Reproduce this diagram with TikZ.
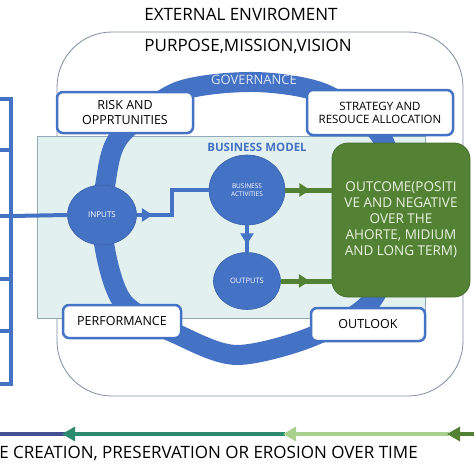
\documentclass[tikz,border=0pt]{standalone}
\usepackage{fontspec}
\setmainfont{Open Sans}
\usetikzlibrary{shapes.geometric,arrows.meta,decorations.markings,calc}
\definecolor{ringblue}{HTML}{4472C4}
\definecolor{bmfill}{HTML}{E2F0EF}
\definecolor{bmline}{HTML}{8FA9B8}
\definecolor{outgreen}{HTML}{548235}
\definecolor{outtext}{HTML}{EAF3E0}
\definecolor{framecol}{HTML}{7C8CA3}
\definecolor{govtext}{HTML}{DCE6F5}
\definecolor{tlindigo}{HTML}{434E93}
\definecolor{tlteal}{HTML}{2E8A6C}
\definecolor{tllight}{HTML}{A9D18E}
\definecolor{tldark}{HTML}{548235}
\begin{document}
\begin{tikzpicture}[x=1pt,y=-1pt,
  capbox/.style={draw=ringblue,line width=2.5pt,fill=white,rounded corners=6pt,align=center,inner sep=0pt,font=\fontsize{12.5}{14.5}\selectfont},
  blob/.style={ellipse,fill=ringblue,draw=ringblue!85!black,line width=0.6pt,inner sep=0pt,text=white,align=center},
  flow/.style={ringblue,line width=4pt},
  gflow/.style={outgreen,line width=5pt},
  capedge/.style={ringblue,line width=4pt},
  midtip/.style={postaction={decorate},decoration={markings,mark=at position #1 with {\arrow{Triangle[length=11pt,width=13pt]}}}},
  title/.style={font=\fontsize{17}{20}\selectfont,inner sep=0pt},
  tl/.style={line width=4pt},
  tltip/.style={-{Triangle[length=13pt,width=14pt]}}
]
\useasboundingbox (0,0) rectangle (474,474);
\clip (0,0) rectangle (474,474);

% titles
\node[title] (ext) at (241,14) {EXTERNAL ENVIROMENT};
\node[title] (pmv) at (248,46) {PURPOSE,MISSION,VISION};

% outer frame
\draw[framecol,line width=0.8pt,rounded corners=55pt] (57,32) rectangle (463,396);

% business model area
\draw[bmline,fill=bmfill,line width=0.6pt] (37,136) rectangle (425,318);
\node[font=\bfseries\fontsize{11.5}{13}\selectfont,text=ringblue,inner sep=0pt] (bm) at (257,147) {BUSINESS MODEL};

% governance ring
\draw[ringblue,line width=20pt] plot[smooth cycle] coordinates {(254,82) (325,94) (382,138) (398,220) (372,300) (311,337) (237,355) (181,336) (123,302) (103,237) (106,180) (120,136) (177,92)};
\node[font=\fontsize{13}{15}\selectfont,text=govtext,inner sep=0pt] (gov) at (254,80) {GOVERNANCE};

% left capitals (cut off)
\foreach \ya/\yb in {99/150,150/216,216/279,279/331,331/384}{
  \draw[capedge] (-30,\ya) rectangle (11,\yb);
}
\coordinate (capout) at (11,216);

% boxes
\node[capbox,minimum width=136pt,minimum height=41pt] (risk) at (125,112.5) {RISK AND\\OPPRTUNITIES};
\node[capbox,minimum width=146pt,minimum height=45pt,font=\fontsize{11.5}{13}\selectfont] (strat) at (380,112.5) {STRATEGY AND\\RESOUCE ALLOCATION};
\node[capbox,minimum width=118pt,minimum height=33pt] (perf) at (122,321.5) {PERFORMANCE};
\node[capbox,minimum width=114pt,minimum height=33pt] (outl) at (368,324.5) {OUTLOOK};

\node[fill=outgreen,draw=outgreen!85!black,line width=0.8pt,rounded corners=16pt,minimum width=138pt,minimum height=154pt,inner sep=0pt,text=outtext,align=center,font=\fontsize{13.5}{16}\selectfont] (outcome) at (401,220) {OUTCOME(POSITI\\VE AND NEGATIVE\\OVER THE\\AHORTE, MIDIUM\\AND LONG TERM)};

% circles
\node[blob,minimum width=69pt,minimum height=60pt,font=\fontsize{8}{9}\selectfont] (inputs) at (102,215) {INPUTS};
\node[blob,minimum width=76pt,minimum height=70pt,font=\fontsize{6.5}{8}\selectfont] (bact) at (247,190) {BUSINESS\\ACTIVITIES};
\node[blob,minimum width=67pt,minimum height=57pt,font=\fontsize{7.5}{9}\selectfont] (outputs) at (247,281) {OUTPUTS};

% connectors
\draw[flow] (capout) -- (inputs.west);
\draw[flow,midtip=16pt] (inputs.east) -| ([xshift=-37pt]bact.west) -- (bact.west);
\draw[flow,midtip=19pt] (bact.south) -- (outputs.north);
\draw[gflow,midtip=25pt] (bact.east) -- (bact.east -| outcome.west);
\draw[gflow,midtip=29pt] (outputs.east) -- (outputs.east -| outcome.west);

% timeline
\coordinate (t0) at (-5,434);
\coordinate (t1) at (62,434);
\coordinate (t2) at (283,434);
\coordinate (t3) at (447,434);
\coordinate (t4) at (480,434);
\draw[tl,tlindigo] (t0) -- ([xshift=6pt]t1);
\draw[tl,tlteal,tltip] ([xshift=2pt]t2) -- (t1);
\draw[tl,tllight,tltip] ([xshift=2pt]t3) -- (t2);
\draw[tl,tldark,tltip] (t4) -- (t3);
\node[font=\fontsize{17}{20}\selectfont,inner sep=0pt,anchor=east] (vc) at (418,453) {E CREATION, PRESERVATION OR EROSION OVER TIME};
\end{tikzpicture}
\end{document}
